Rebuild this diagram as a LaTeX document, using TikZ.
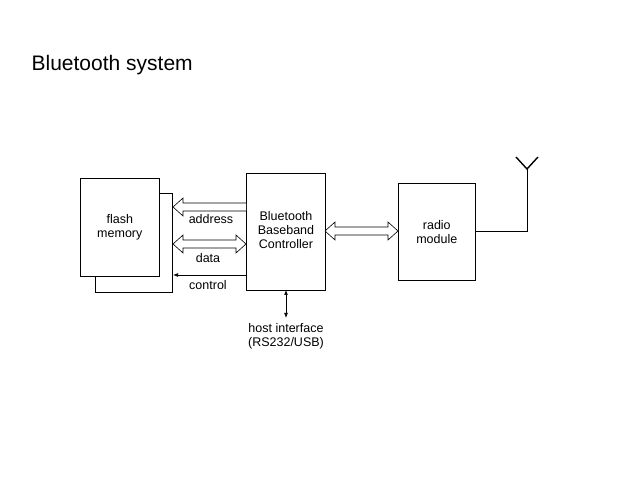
\documentclass[tikz,border=0pt]{standalone}
\usepackage{fontspec}
\setmainfont{Liberation Sans}
\usetikzlibrary{arrows.meta}

\begin{document}
\begin{tikzpicture}[x=1pt, y=-1pt, semithick,
block/.style ={draw, fill = white, inner sep = 0pt, anchor = north west, align = center, font = \fontsize{12.5}{14}\selectfont},
bus/.style ={draw, line width = 0.6pt, fill = white},
lbl/.style ={font = \fontsize{12.5}{14}\selectfont, inner sep = 1pt}]
\useasboundingbox (0,0) rectangle (638,478);
\node[anchor = west, font = \fontsize{21}{24}\selectfont] (title) at (28,65) {Bluetooth system};
% memory stack
\node[block, minimum width = 77pt, minimum height = 99pt] (back) at (95,193) {};
\node[block, minimum width = 79pt, minimum height = 98pt] (flash) at (80,178) {flash\\memory};
% controller and radio
\node[block, minimum width = 79pt, minimum height = 117pt] (ctrl) at (246,173) {};
\node[lbl, align = center] (ctrltxt) at (286,230) {Bluetooth\\Baseband\\Controller};
\node[block, minimum width = 77pt, minimum height = 97pt] (radio) at (398,183) {radio\\module};
% buses
\path[bus] (246,203) -- (183,203) -- (183,198) -- (173,207) -- (183,216) -- (183,211) -- (246,211);
\path[bus] (173,244) -- (183,235) -- (183,240) -- (236,240) -- (236,235) -- (246,244)
           -- (236,253) -- (236,248) -- (183,248) -- (183,253) -- cycle;
\path[bus] (325,231) -- (335,222) -- (335,227) -- (388,227) -- (388,222) -- (398,231)
           -- (388,240) -- (388,235) -- (335,235) -- (335,240) -- cycle;
\coordinate (cR) at (246,275);
\coordinate (cL) at (173,275);
\draw[-{Latex[length=5pt]}] (cR) -- (cL);
\node[lbl] (addr) at (211,219) {address};
\node[lbl] (data) at (208,258) {data};
\node[lbl] (ctl) at (208,285) {control};
% host interface
\coordinate (hA) at (286,290);
\coordinate (hB) at (286,318);
\draw[{Latex[length=5pt]}-{Latex[length=5pt]}] (hA) -- (hB);
\node[lbl, align = center, anchor = north] (host) at (286,322) {host interface\\(RS232/USB)};
% antenna
\coordinate (ant) at (527,231);
\coordinate (antTop) at (527,169);
\draw (radio.east |- ant) -- (ant) -- (antTop);
\draw[line width = 1.4pt] (516,157) -- (antTop) -- (538,157);
\end{tikzpicture}
\end{document}
